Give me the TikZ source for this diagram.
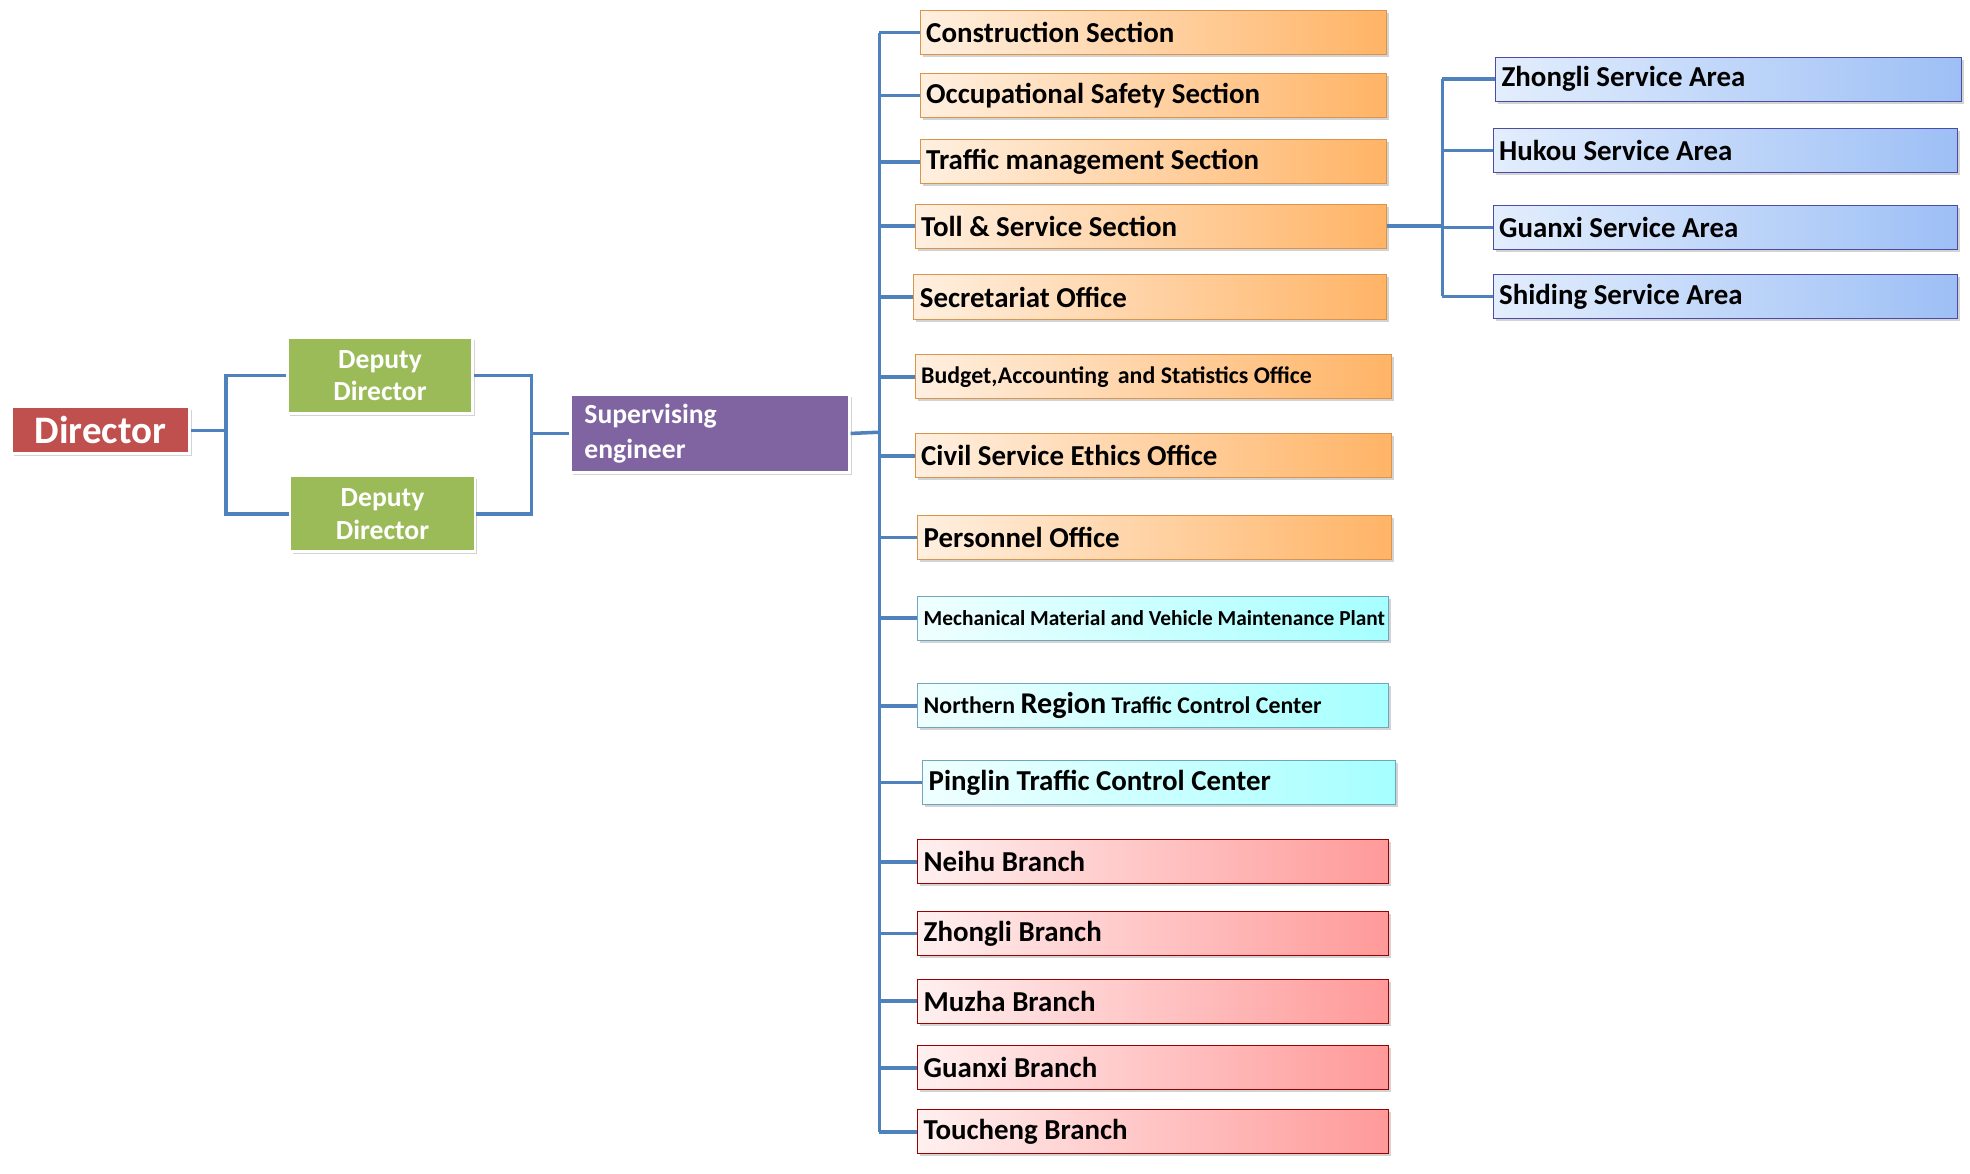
\documentclass[tikz,border=0pt]{standalone}
\usepackage{fontspec}
\setmainfont{Carlito}
\usetikzlibrary{shadows}
\definecolor{conn}{HTML}{4F81BD}
\definecolor{dred}{HTML}{C0504D}
\definecolor{dgreen}{HTML}{9BBB59}
\definecolor{dpurp}{HTML}{8064A2}
\definecolor{blR}{HTML}{9DBFF5}
\definecolor{blL}{HTML}{E3EEFD}
\tikzset{
 base/.style={draw=#1, line width=0.8pt, drop shadow={opacity=0.35,shadow xshift=2pt,shadow yshift=-2pt}},
 solid/.style={base=white, line width=2pt, fill=#1, text=white, font=\bfseries\fontsize{22}{26}\selectfont},
 org/.style={base=orange!80!black!70, left color=orange!12, right color=orange!55!yellow!70!red!60},
 cya/.style={base=cyan!60!black!70, left color=cyan!6, right color=cyan!35},
 rd/.style={base=red!60!black, left color=red!6, right color=red!40},
 bl/.style={base=blue!50!black!70, left color=blL, right color=blR},
 cn/.style={draw=conn, line width=2.8pt},
}
\newcommand\bx[7]{\node[#6, rectangle, anchor=north west, inner sep=0pt, minimum width={(#4-#2)*1pt}, minimum height={(#5-#3)*1pt}] (#1) at (#2,#3) {};
 \node[anchor=west, inner sep=0pt, text=black, font=\bfseries\fontsize{23}{26}\selectfont] at ([xshift=5pt]#1.west) {#7};}
\begin{document}
\begin{tikzpicture}[x=1pt,y=-1pt]
\useasboundingbox (0,0) rectangle (1568,934);
% left
\node[solid=dred, anchor=north west, minimum width=142pt, minimum height=37pt, inner sep=0pt, font=\bfseries\fontsize{31}{34}\selectfont] (dir) at (8,323) {Director};
\node[solid=dgreen, anchor=north west, minimum width=147pt, minimum height=60pt, inner sep=0pt, align=center] (dd1) at (228,268) {Deputy\\Director};
\node[solid=dgreen, anchor=north west, minimum width=147pt, minimum height=60pt, inner sep=0pt, align=center] (dd2) at (230,378) {Deputy\\Director};
\node[solid=dpurp, anchor=north west, minimum width=222pt, minimum height=62pt, inner sep=0pt] (sup) at (453,313) {};
\node[anchor=west, align=left, text=white, font=\bfseries\fontsize{22}{28}\selectfont, inner sep=0pt] at ([xshift=12pt]sup.west) {Supervising\\engineer};
\bx{c1}{732}{8}{1103}{43}{org}{Construction Section}
\bx{c2}{732}{58}{1103}{93}{org}{Occupational Safety Section}
\bx{c3}{732}{111}{1103}{146}{org}{Traffic management Section}
\bx{c4}{728}{162}{1103}{197}{org}{Toll \& Service Section}
\bx{c5}{727}{218}{1103}{254}{org}{Secretariat Office}
\bx{c6}{728}{282}{1107}{317}{org}{{\fontsize{19}{22}\selectfont Budget,Accounting\, and Statistics Office}}
\bx{c7}{728}{345}{1107}{380}{org}{Civil Service Ethics Office}
\bx{c8}{730}{410}{1107}{445}{org}{Personnel Office}
\bx{c9}{730}{474}{1105}{509}{cya}{{\fontsize{17}{20}\selectfont Mechanical Material and Vehicle Maintenance Plant}}
\bx{c10}{730}{544}{1105}{579}{cya}{{\fontsize{19}{22}\selectfont Northern {\fontsize{24}{26}\selectfont Region} Traffic Control Center}}
\bx{c11}{734}{605}{1110}{640}{cya}{Pinglin Traffic Control Center}
\bx{c12}{730}{668}{1105}{703}{rd}{Neihu Branch}
\bx{c13}{730}{725}{1105}{760}{rd}{Zhongli Branch}
\bx{c14}{730}{779}{1105}{814}{rd}{Muzha Branch}
\bx{c15}{730}{832}{1105}{867}{rd}{Guanxi Branch}
\bx{c16}{730}{883}{1105}{918}{rd}{Toucheng Branch}
\bx{s1}{1190}{45}{1561}{80}{bl}{Zhongli Service Area}
\bx{s2}{1188}{102}{1558}{137}{bl}{Hukou Service Area}
\bx{s3}{1188}{163}{1558}{198}{bl}{Guanxi Service Area}
\bx{s4}{1188}{218}{1558}{253}{bl}{Shiding Service Area}
% connectors
\coordinate (j1) at (180,341);
\coordinate (j2) at (423,344);
\coordinate (tr) at (700,344);
\coordinate (ts) at (1148,180);
\draw[cn] (dir.east) -- (dir.east -| j1);
\draw[cn] (dd1.west) -| (j1) |- (dd2.west);
\draw[cn] (dd1.east) -| (j2) |- (dd2.east);
\draw[cn] (sup.west -| j2) -- (sup.west);
\draw[cn] (sup.east) -- (tr);
\draw[cn] (c1.west -| tr) -- (c16.west -| tr);
\foreach \n in {c1,c2,c3,c4,c5,c6,c7,c8,c9,c10,c11,c12,c13,c14,c15,c16}
  \draw[cn] (\n.west -| tr) -- (\n.west);
\draw[cn] (c4.east) -- (c4.east -| ts);
\draw[cn] (s1.west -| ts) -- (s4.west -| ts);
\foreach \n in {s1,s2,s3,s4}
  \draw[cn] (\n.west -| ts) -- (\n.west);
\end{tikzpicture}
\end{document}
